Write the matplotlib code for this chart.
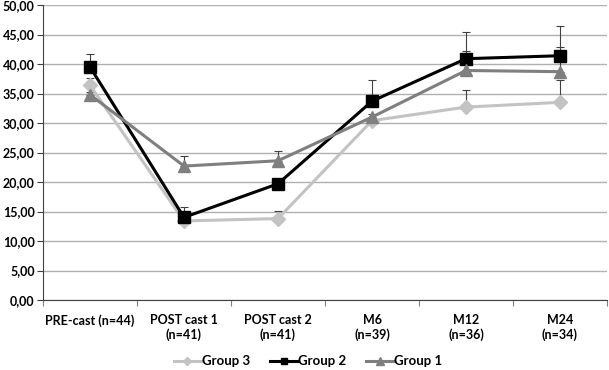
import matplotlib
matplotlib.use("Agg")
import matplotlib.pyplot as plt
import numpy as np

categories = ["PRE-cast (n=44)", "POST cast 1\n(n=41)", "POST cast 2\n(n=41)",
              "M6\n(n=39)", "M12\n(n=36)", "M24\n(n=34)"]
group3 = [36.4, 13.4, 13.8, 30.4, 32.7, 33.5]
group2 = [39.5, 14.0, 19.7, 33.7, 40.9, 41.4]
group1 = [34.8, 22.7, 23.6, 31.0, 38.9, 38.7]
group3_err = [1.2, 0.3, 1.3, 0.5, 2.9, 3.8]
group2_err = [2.2, 1.8, 0.5, 3.6, 4.5, 5.0]
group1_err = [0.5, 1.7, 1.7, 0.5, 3.3, 4.2]

plt.rcParams['font.family'] = ['Lato', 'DejaVu Sans']
fig = plt.figure(figsize=(6.09, 3.70), dpi=100)
ax = fig.add_axes([43/609, 1 - 300/370, 564/609, 295/370])

x = np.arange(len(categories))
series = [
    ("Group 3", group3, group3_err, "#c3c3c3", "D", 7),
    ("Group 2", group2, group2_err, "#000000", "s", 8),
    ("Group 1", group1, group1_err, "#7f7f7f", "^", 8.5),
]
for name, vals, errs, col, mk, ms in series:
    ax.errorbar(x, vals, yerr=[np.zeros(len(errs)), errs], fmt="none",
                ecolor="#404040", elinewidth=0.8, capsize=3, capthick=0.8, zorder=2)
for name, vals, errs, col, mk, ms in series:
    ax.plot(x, vals, color=col, lw=2.2, marker=mk, markersize=ms,
            markerfacecolor=col, markeredgecolor=col, label=name, zorder=3)

ax.set_xlim(-0.5, len(categories) - 0.5)
ax.set_ylim(0, 50)
ax.set_yticks(np.arange(0, 51, 5))
ax.set_yticklabels([f"{v:.2f}".replace(".", ",") for v in np.arange(0, 51, 5)],
                   fontsize=9, fontweight="bold")
ax.yaxis.grid(True, color="#b0b0b0", lw=1)
ax.set_axisbelow(True)
ax.set_xticks(np.arange(-0.5, len(categories), 1))
ax.set_xticklabels([])
ax.set_xticks(x, minor=True)
ax.set_xticklabels(categories, minor=True, fontsize=9, fontweight="bold")
ax.tick_params(axis="x", which="minor", length=0, pad=10)
ax.tick_params(axis="x", which="major", length=4, color="#808080")
ax.tick_params(axis="y", length=4, color="#404040", pad=2)
for s in ["top", "right"]:
    ax.spines[s].set_visible(False)
ax.spines["left"].set_color("#404040")
ax.spines["bottom"].set_color("#404040")

ax.legend(loc="center", bbox_to_anchor=(0.47, -0.208), ncol=3, frameon=False,
          prop={"weight": "bold", "size": 9.5}, handlelength=2.1, columnspacing=1.5,
          handletextpad=0.05, markerscale=0.6, borderpad=0)

fig.savefig("out.png", dpi=100)
